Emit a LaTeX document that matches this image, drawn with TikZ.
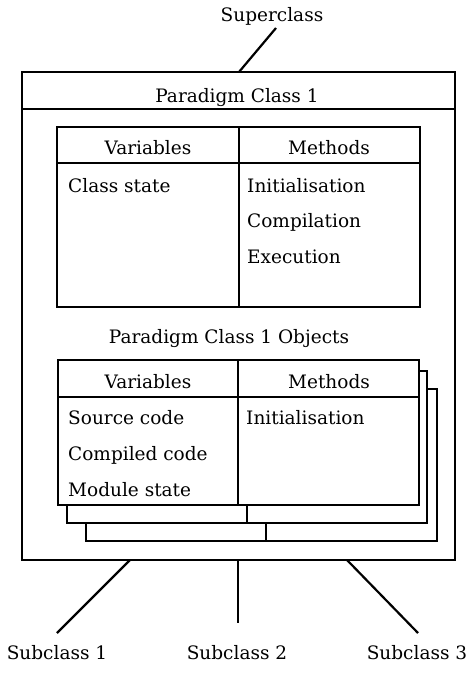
\documentclass[tikz,border=0pt]{standalone}
\usepackage{fontspec}
\setmainfont{DejaVu Serif}
\tikzset{
  lbl/.style={font=\fontsize{18.5}{22}\selectfont, inner sep=0pt, text height=13pt, text depth=0pt},
  box/.style={line width=2.2pt},
}
\begin{document}
\begin{tikzpicture}[x=1pt,y=-1pt]
  \useasboundingbox (0,0) rectangle (474,682);
  % outer class box
  \draw[box] (22,72) rectangle (455,560);
  \draw[box] (22,109) -- (455,109);
  \node[lbl] (title) at (237,96) {Paradigm Class 1};
  % class table
  \draw[box] (57,127) rectangle (420,307);
  \draw[box] (57,163) -- (420,163);
  \draw[box] (239,127) -- (239,307);
  \node[lbl] (cvar) at (148,148) {Variables};
  \node[lbl] (cmeth) at (329,148) {Methods};
  \node[lbl,anchor=west] (cstate) at (68,186) {Class state};
  \node[lbl,anchor=west] (cinit) at (247,186) {Initialisation};
  \node[lbl,anchor=west] (ccomp) at (247,221) {Compilation};
  \node[lbl,anchor=west] (cexec) at (247,257) {Execution};
  \node[lbl] (objs) at (229,337) {Paradigm Class 1 Objects};
  % object tables, back to front
  \draw[box,fill=white] (86,389) rectangle (437,541);
  \draw[box] (266,389) -- (266,541);
  \draw[box,fill=white] (67,371) rectangle (427,523);
  \draw[box] (247,371) -- (247,523);
  \draw[box,fill=white] (58,360) rectangle (419,505);
  \draw[box] (58,397) -- (419,397);
  \draw[box] (238,360) -- (238,505);
  \node[lbl] (ovar) at (148,382) {Variables};
  \node[lbl] (ometh) at (329,382) {Methods};
  \node[lbl,anchor=west] (osrc) at (68,418) {Source code};
  \node[lbl,anchor=west] (ocmp) at (68,454) {Compiled code};
  \node[lbl,anchor=west] (omod) at (68,490) {Module state};
  \node[lbl,anchor=west] (oinit) at (246,418) {Initialisation};
  % super and subclasses
  \node[lbl] (super) at (272,15) {Superclass};
  \node[lbl] (sub1) at (57,653) {Subclass 1};
  \node[lbl] (sub2) at (237,653) {Subclass 2};
  \node[lbl] (sub3) at (417,653) {Subclass 3};
  \coordinate (s0) at (276,28);
  \coordinate (s1) at (239,72);
  \coordinate (b1) at (130,560);
  \coordinate (b2) at (238,560);
  \coordinate (b3) at (347,560);
  \coordinate (e1) at (57,633);
  \coordinate (e2) at (238,623);
  \coordinate (e3) at (418,633);
  \draw[box] (s0) -- (s1);
  \draw[box] (b1) -- (e1);
  \draw[box] (b2) -- (e2);
  \draw[box] (b3) -- (e3);
\end{tikzpicture}
\end{document}
